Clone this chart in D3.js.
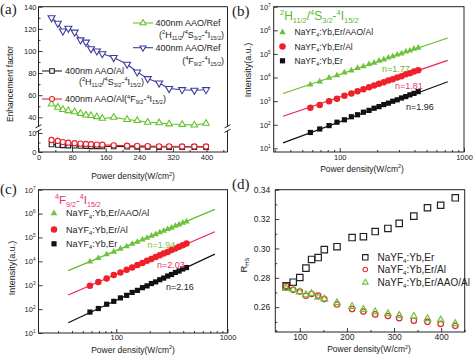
<!DOCTYPE html>
<html><head><meta charset="utf-8">
<script src="https://cdn.jsdelivr.net/npm/d3@7"></script>
<style>body{margin:0;background:#fff}svg{display:block}</style>
</head><body><svg id="c" width="474" height="356"></svg>
<script>
// ---------------- DATA ----------------
// panel (a): enhancement factor vs power density
const powerA = [31,46,58,71,86,100,113,125,139,152,179,211,235,260,287,311,342,371,399];
const aRefHS = [52,49,47,46,45,43.5,42,41.5,40.5,39,40,38,37,35.5,35,34,33.5,33,34.5];
const aRefF  = [130,125,118,120.5,117,110,108,102,100,97.5,94,88,81,75,71,66,65,64.5,65];
const aAlHS  = [4.0,3.7,3.5,3.4,3.3,3.2,3.1,3.0,3.0,2.9,2.9,2.8,2.7,2.7,2.6,2.6,2.6,2.6,2.6];
const aAlF   = [6.3,5.8,5.2,4.9,4.6,4.4,4.2,4.1,3.9,3.8,3.5,3.3,3.2,3.1,3.0,3.0,2.9,2.9,2.9];
const aXTicks = [0,80,160,240,320,400];
const aYTicksUp = [40,60,80,100,120,140];
const aYTicksLow = [0,10];

// panels (b),(c): intensity vs power density (log-log)
const powerBC = [58,69,82,95,109,124,139,155,172,189,207,226,246,267,290,314,340,367,396,428];
const bAAO = [5000,6700,9700,12200,16200,19800,25000,29500,36500,42000,51000,58000,69000,78000,93000,104000,124000,137000,164000,182000];
const bAl  = [520,690,1000,1270,1700,2080,2650,3150,3900,4550,5500,6300,7500,8500,10100,11400,13600,15200,18000,20300];
const bRef = [47,66,92,128,162,218,265,340,405,500,585,715,820,990,1140,1360,1560,1850,2120,2520];
const bFitX = [35,740];
const bFitAAO = [2100,470000], bFitAl = [230,53000], bFitRef = [17,6600];
const bSlopes = ["n=1.77","n=1.81","n=1.96"];

const cAAO = [9700,13500,19400,25000,33500,42000,53500,65000,81000,95500,116000,135000,163000,187000,223000,255000,305000,345000,410000,465000];
const cAl  = [950,1380,1900,2650,3400,4500,5550,7100,8600,10600,12500,15300,17800,21500,24800,29800,34200,41000,46800,55500];
const cRef = [75,106,160,212,295,378,500,610,790,940,1180,1380,1700,1990,2430,2820,3420,3950,4780,5500];
const cFitX = [37,770];
const cFitAAO = [4070,1500000], cFitAl = [390,174000], cFitRef = [27,20000];
const cSlopes = ["n=1.94","n=2.03","n=2.16"];
const logYExps = [1,2,3,4,5,6,7];

// panel (d): intensity ratio
const powerD = [71,86,100,113,125,139,152,179,211,235,260,287,311,342,371,399,430];
const dRef = [0.2745,0.2770,0.2802,0.2866,0.2925,0.2938,0.2992,0.3012,0.3074,0.3080,0.3115,0.3136,0.3171,0.3220,0.3277,0.3294,0.3345];
const dAl  = [0.2744,0.2718,0.2706,0.2678,0.2690,0.2679,0.2655,0.2618,0.2587,0.2570,0.2551,0.2540,0.2525,0.2508,0.2500,0.2486,0.2473];
const dAAO = [0.2727,0.2720,0.2703,0.2684,0.2693,0.2667,0.2656,0.2630,0.2604,0.2584,0.2568,0.2556,0.2544,0.2538,0.2522,0.2513,0.2488];
const dXTicks = [100,200,300,400];
const dYTicks = [0.26,0.28,0.30,0.32,0.34];

// ---------------- HELPERS ----------------
const FONT = '"Liberation Sans", Arial, sans-serif';
const SERIF = '"Liberation Serif", "DejaVu Serif", serif';
const AX = "#222";
const svg = d3.select("#c").attr("font-family", FONT);
svg.append("rect").attr("width",474).attr("height",356).attr("fill","#fff");

function rich(g, x, y, parts, size, color, anchor, transform){
  const t = g.append("text").attr("x",x).attr("y",y).attr("font-size",size)
    .attr("fill",color).attr("text-anchor",anchor||"start").attr("font-family",FONT);
  if (transform) t.attr("transform",transform);
  let cur = 0;
  parts.forEach(p=>{
    const s = typeof p === "string" ? p : p[0];
    const k = typeof p === "string" ? "" : p[1];
    const target = k==="sup" ? -0.4*size : (k==="sub" ? 0.25*size : 0);
    t.append("tspan").attr("dy", target-cur).attr("font-size", k ? size*0.62 : size).text(s);
    cur = target;
  });
  return t;
}
function sym(type, px){
  if (type==="tri" || type==="tridown") return d3.symbol().type(d3.symbolTriangle).size(Math.sqrt(3)/4*px*px)();
  if (type==="sq") return d3.symbol().type(d3.symbolSquare).size(px*px)();
  return d3.symbol().type(d3.symbolCircle).size(Math.PI*px*px/4)();
}
function markers(g, pts, type, px, fill, stroke, sw){
  g.selectAll(null).data(pts).enter().append("path")
    .attr("d", sym(type, px))
    .attr("transform", d=>`translate(${d[0]},${d[1]})` + (type==="tridown" ? " rotate(180)" : ""))
    .attr("fill", fill).attr("stroke", stroke).attr("stroke-width", sw||0);
}
function line(g, x1,y1,x2,y2,color,w){
  g.append("line").attr("x1",x1).attr("y1",y1).attr("x2",x2).attr("y2",y2).attr("stroke",color).attr("stroke-width",w||1);
}
function styleAxis(a, fs){
  a.select(".domain").remove();
  a.selectAll("line").attr("stroke",AX).attr("stroke-width",0.9);
  a.selectAll("text").attr("font-size",fs).attr("font-family",FONT).attr("fill",AX);
}
function frame(g, x0,x1,y0,y1){
  g.append("rect").attr("x",x0).attr("y",y0).attr("width",x1-x0).attr("height",y1-y0)
    .attr("fill","none").attr("stroke",AX).attr("stroke-width",1);
}
const powerLabel = ["Power density(W/cm", ["2","sup"], ")"];

// ---------------- PANEL (a) ----------------
(function(){
  const g = svg.append("g");
  const x = d3.scaleLinear().domain([0,450]).range([38.5,227.5]);
  const yU = d3.scaleLinear().domain([31,140]).range([127.3,6.7]);
  const yL = d3.scaleLinear().domain([0,11.3]).range([152,130.5]);
  const y = v => v > 20 ? yU(v) : yL(v);
  const L = 38.5, R = 227.5, T = 6.7, B = 152, b1 = 126.3, b2 = 130.8;
  // frame with break
  line(g,L,T,R,T,AX); line(g,L,B,R,B,AX);
  [L,R].forEach(xx=>{
    line(g,xx,T,xx,b1,AX); line(g,xx,b2,xx,B,AX);
    [b1,b2].forEach(yb=>line(g,xx-3,yb+1.6,xx+3,yb-1.6,AX,1));
  });
  // axes
  let a = g.append("g").attr("transform",`translate(0,${B})`)
    .call(d3.axisBottom(x).tickValues(aXTicks).tickSize(-4).tickPadding(3));
  styleAxis(a,7.5);
  a = g.append("g").attr("transform",`translate(0,${B})`)
    .call(d3.axisBottom(x).tickValues(d3.range(40,450,80)).tickSize(-2).tickFormat(""));
  styleAxis(a,7.5);
  a = g.append("g").attr("transform",`translate(${L},0)`)
    .call(d3.axisLeft(yU).tickValues(aYTicksUp).tickSize(-4).tickPadding(2));
  styleAxis(a,7.5);
  a = g.append("g").attr("transform",`translate(${L},0)`)
    .call(d3.axisLeft(yU).tickValues([50,70,90,110,130]).tickSize(-2).tickFormat(""));
  styleAxis(a,7.5);
  a = g.append("g").attr("transform",`translate(${L},0)`)
    .call(d3.axisLeft(yL).tickValues(aYTicksLow).tickSize(-4).tickPadding(2));
  styleAxis(a,7.5);
  a = g.append("g").attr("transform",`translate(${L},0)`)
    .call(d3.axisLeft(yL).tickValues([5]).tickSize(-2).tickFormat(""));
  styleAxis(a,7.5);

  const series = [
    {v:aRefHS, c:"#66c22e", t:"tri", px:6.5},
    {v:aRefF,  c:"#3d3d99", t:"tridown", px:7},
    {v:aAlHS,  c:"#222222", t:"sq", px:4.6},
    {v:aAlF,   c:"#e8202e", t:"circ", px:5.2}
  ];
  const ln = d3.line().x(d=>d[0]).y(d=>d[1]);
  series.forEach(s=>{
    const pts = powerA.map((p,i)=>[x(p), y(s.v[i])]);
    g.append("path").attr("d",ln(pts)).attr("fill","none").attr("stroke",s.c).attr("stroke-width",1.1);
    markers(g, pts, s.t, s.px, "#fff", s.c, 1.1);
  });
  // legend
  const HS = ["(",["2","sup"],"H",["11/2","sub"],"/",["4","sup"],"S",["3/2","sub"],"-",["4","sup"],"I",["15/2","sub"],")"];
  const F  = ["(",["4","sup"],"F",["9/2","sub"],"-",["4","sup"],"I",["15/2","sub"],")"];
  const leg = [
    {c:"#66c22e", t:"tri", px:6, x1:133, x2:153, y:23, txt:["400nm AAO/Ref"], tx:155.5, y2:37.5, l2:HS, l2x:224, l2a:"end"},
    {c:"#3d3d99", t:"tridown", px:6, x1:133, x2:153, y:47.7, txt:["400nm AAO/Ref"], tx:155.5, y2:63.5, l2:F, l2x:224, l2a:"end"},
    {c:"#222222", t:"sq", px:4.6, x1:42, x2:62, y:71, txt:["400nm AAO/Al"], tx:65, y2:85, l2:HS, l2x:79, l2a:"start"},
    {c:"#e8202e", t:"circ", px:5, x1:42, x2:62, y:99, txt:["400nm AAO/Al(",["4","sup"],"F",["9/2","sub"],"-",["4","sup"],"I",["15/2","sub"],")"], tx:65}
  ];
  leg.forEach(d=>{
    line(g,d.x1,d.y,d.x2,d.y,d.c,1.1);
    markers(g,[[ (d.x1+d.x2)/2, d.y]], d.t, d.px, "#fff", d.c, 1.1);
    rich(g, d.tx, d.y+3.2, d.txt, 9, "#222", "start");
    if (d.l2) rich(g, d.l2x, d.y2, d.l2, 9, "#222", d.l2a);
  });
  rich(g, 0, 0, ["Enhancement factor"], 8.5, "#222", "middle", "translate(13,84) rotate(-90)");
  rich(g, 133, 179, powerLabel, 8.5, "#222", "middle");
  g.append("text").attr("x",0).attr("y",13.5).attr("font-family",SERIF).attr("font-size",15).attr("fill","#222").text("(a)");
})();

// ---------------- PANELS (b) & (c) ----------------
function logPanel(cfg){
  const g = svg.append("g");
  const x = d3.scaleLog().domain(cfg.xd).range([cfg.L,cfg.R]);
  const y = d3.scaleLog().domain(cfg.yd).range([cfg.B,cfg.T]);
  frame(g,cfg.L,cfg.R,cfg.T,cfg.B);
  let a = g.append("g").attr("transform",`translate(0,${cfg.B})`)
    .call(d3.axisBottom(x).tickValues([100,1000]).tickSize(-4).tickPadding(cfg.xpad).tickFormat(d3.format("d")));
  styleAxis(a,7.5);
  a = g.append("g").attr("transform",`translate(0,${cfg.B})`)
    .call(d3.axisBottom(x).tickValues(cfg.minorX).tickSize(-2).tickFormat(""));
  styleAxis(a,7.5);
  a = g.append("g").attr("transform",`translate(${cfg.L},0)`)
    .call(d3.axisLeft(y).tickValues(logYExps.map(e=>Math.pow(10,e))).tickSize(-4).tickFormat(""));
  styleAxis(a,7.5);
  logYExps.forEach(e=>rich(g, cfg.L-3, y(Math.pow(10,e))+2.8, ["10",[String(e),"sup"]], 7.5, AX, "end"));

  const ln = d3.line().x(d=>d[0]).y(d=>d[1]);
  const ser = cfg.series;
  ser.forEach(s=>{
    const pts = cfg.fitX.map((p,i)=>[x(p), y(s.fit[i])]);
    g.append("path").attr("d",ln(pts)).attr("fill","none").attr("stroke",s.lc).attr("stroke-width",1.2);
  });
  ser.forEach(s=>{
    markers(g, powerBC.map((p,i)=>[x(p), y(s.v[i])]), s.t, s.px, s.c, "none", 0);
  });
  // legend
  rich(g, cfg.titleX, cfg.titleY, cfg.title, cfg.titleFs, cfg.titleC, "start");
  cfg.legend.forEach((d,i)=>{
    const s = ser[i];
    markers(g, [[cfg.legX, d.y]], s.t, s.px, s.c, "none", 0);
    rich(g, cfg.legTx, d.y+3, d.txt, cfg.legFs, "#222", "start");
  });
  cfg.slopeLabels.forEach(d=>rich(g, d.x, d.y+3.2, [d.t], 9, d.c, "start"));
  rich(g, 0, 0, ["Intensity(a.u.)"], 9, "#222", "middle", `translate(${cfg.ylx},${cfg.yly}) rotate(-90)`);
  rich(g, cfg.xlx, cfg.xly, powerLabel, 8.5, "#222", "middle");
  g.append("text").attr("x",cfg.px).attr("y",cfg.py).attr("font-family",SERIF).attr("font-size",15).attr("fill","#222").text(cfg.panel);
}
const NaYF = (suffix)=>["NaYF",["4","sub"],":Yb,Er"+suffix];
logPanel({
  panel:"(b)", px:232, py:16,
  L:273.7, R:464, T:6.7, B:152, xd:[29.4,1000], yd:[7,1e7], xpad:3,
  minorX:[30,40,50,60,70,80,90,200,300,400,500,600,700,800,900],
  fitX:bFitX,
  series:[
    {v:bAAO, fit:bFitAAO, c:"#6cc23a", lc:"#5fbf2a", t:"tri", px:6.5},
    {v:bAl,  fit:bFitAl,  c:"#f0202a", lc:"#e8234a", t:"circ", px:6.5},
    {v:bRef, fit:bFitRef, c:"#111111", lc:"#111111", t:"sq", px:5.2}
  ],
  title:[["2","sup"],"H",["11/2","sub"],"/",["4","sup"],"S",["3/2","sub"],"-",["4","sup"],"I",["15/2","sub"]],
  titleX:280, titleY:20, titleFs:12, titleC:"#5cb82e",
  legX:282.5, legTx:294.5, legFs:8.5,
  legend:[{y:32.3, txt:NaYF("/AAO/Al")},{y:46.5, txt:NaYF("/Al")},{y:60.8, txt:NaYF("")}],
  slopeLabels:[{x:382,y:69,t:bSlopes[0],c:"#6ab42d"},{x:395,y:86,t:bSlopes[1],c:"#e8306a"},{x:406,y:107,t:bSlopes[2],c:"#222"}],
  ylx:250.5, yly:70, xlx:362, xly:171.5
});
logPanel({
  panel:"(c)", px:0, py:194,
  L:38.5, R:227.5, T:189.7, B:333, xd:[20,1000], yd:[10,1e7], xpad:2,
  minorX:[30,40,50,60,70,80,90,200,300,400,500,600,700,800,900],
  fitX:cFitX,
  series:[
    {v:cAAO, fit:cFitAAO, c:"#6cc23a", lc:"#5fbf2a", t:"tri", px:6.5},
    {v:cAl,  fit:cFitAl,  c:"#f0202a", lc:"#e8234a", t:"circ", px:6.5},
    {v:cRef, fit:cFitRef, c:"#111111", lc:"#111111", t:"sq", px:5.2}
  ],
  title:[["4","sup"],"F",["9/2","sub"],"-",["4","sup"],"I",["15/2","sub"]],
  titleX:55, titleY:204, titleFs:11.5, titleC:"#e8306a",
  legX:54, legTx:66, legFs:9,
  legend:[{y:213.3, txt:NaYF("/AAO/Al")},{y:229.5, txt:NaYF("/Al")},{y:243.8, txt:NaYF("")}],
  slopeLabels:[{x:147.5,y:244.5,t:cSlopes[0],c:"#7dc242"},{x:157,y:264.5,t:cSlopes[1],c:"#e8306a"},{x:166,y:287,t:cSlopes[2],c:"#222"}],
  ylx:15, yly:268, xlx:133, xly:352.5
});

// ---------------- PANEL (d) ----------------
(function(){
  const g = svg.append("g");
  const L=275.3, R=464.7, T=189.7, B=332;
  const x = d3.scaleLinear().domain([48,450]).range([L,R]);
  const y = d3.scaleLinear().domain([0.2431,0.34]).range([B,T]);
  frame(g,L,R,T,B);
  let a = g.append("g").attr("transform",`translate(0,${B})`)
    .call(d3.axisBottom(x).tickValues(dXTicks).tickSize(-4).tickPadding(2));
  styleAxis(a,8.5);
  a = g.append("g").attr("transform",`translate(0,${B})`)
    .call(d3.axisBottom(x).tickValues([50,150,250,350,450]).tickSize(-2).tickFormat(""));
  styleAxis(a,8.5);
  a = g.append("g").attr("transform",`translate(${L},0)`)
    .call(d3.axisLeft(y).tickValues(dYTicks).tickSize(-4).tickPadding(5).tickFormat(d3.format(".2f")));
  styleAxis(a,8.5);
  a = g.append("g").attr("transform",`translate(${L},0)`)
    .call(d3.axisLeft(y).tickValues([0.25,0.27,0.29,0.31,0.33]).tickSize(-2).tickFormat(""));
  styleAxis(a,8.5);
  const ser = [
    {v:dRef, c:"#222222", t:"sq", px:6.4},
    {v:dAl,  c:"#e8202e", t:"circ", px:5.4},
    {v:dAAO, c:"#6cc23a", t:"tri", px:6.6}
  ];
  ser.forEach(s=>markers(g, powerD.map((p,i)=>[x(p), y(s.v[i])]), s.t, s.px, "none", s.c, 1.2));
  const legY = [257.3, 269.5, 282.5];
  const legT = [NaYF(""), NaYF("/Al"), NaYF("/AAO/Al")];
  ser.forEach((s,i)=>{
    markers(g, [[365.3, legY[i]]], s.t, s.px*0.85, "none", s.c, 1.1);
    rich(g, 377.5, legY[i]+3.4, legT[i], 10, "#222", "start");
  });
  rich(g, 0, 0, ["R",["HS","sub"]], 9.5, "#222", "middle", "translate(247,265) rotate(-90)");
  rich(g, 369, 352, powerLabel, 8.5, "#222", "middle");
  g.append("text").attr("x",232).attr("y",188.5).attr("font-family",SERIF).attr("font-size",15).attr("fill","#222").text("(d)");
})();
</script></body></html>
